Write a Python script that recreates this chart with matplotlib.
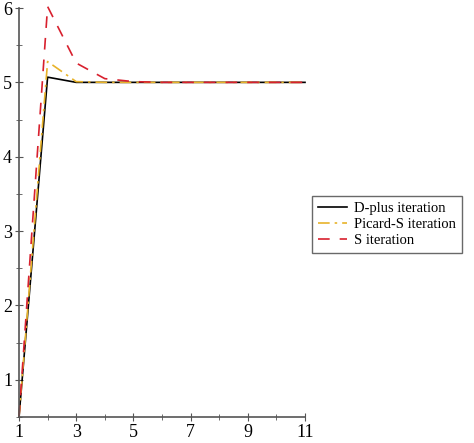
import matplotlib.pyplot as plt
from matplotlib.ticker import MultipleLocator

plt.rcParams['font.family'] = ['Liberation Serif', 'DejaVu Serif']

# iteration steps and series values
steps = list(range(1, 12))
d_plus = [0.5, 5.07, 5.0, 5.0, 5.0, 5.0, 5.0, 5.0, 5.0, 5.0, 5.0]
picard_s = [0.5, 5.28, 5.01, 5.0, 5.0, 5.0, 5.0, 5.0, 5.0, 5.0, 5.0]
s_iter = [0.5, 6.02, 5.26, 5.05, 5.01, 5.0, 5.0, 5.0, 5.0, 5.0, 5.0]
x_ticks = [1, 3, 5, 7, 9, 11]
y_ticks = [1, 2, 3, 4, 5, 6]

fig = plt.figure(figsize=(4.74, 4.43), dpi=100)
ax = fig.add_axes([19 / 474, 26 / 443, 286 / 474, 409 / 443])

ax.plot(steps, d_plus, color='black', lw=1.2, label='D-plus iteration', clip_on=False)
ax.plot(steps, picard_s, color='#E8B32A', lw=1.2, ls=(0, (7, 3, 1.5, 3)),
        label='Picard-S iteration', clip_on=False)
ax.plot(steps, s_iter, color='#D8202E', lw=1.2, ls=(0, (7, 6)),
        label='S iteration', clip_on=False)

ax.set_xlim(1, 11)
ax.set_ylim(0.5, 6)
ax.set_xticks(x_ticks)
ax.xaxis.set_minor_locator(MultipleLocator(1))
ax.set_yticks(y_ticks)
ax.yaxis.set_minor_locator(MultipleLocator(0.5))

for side in ['top', 'right']:
    ax.spines[side].set_visible(False)
for side in ['left', 'bottom']:
    ax.spines[side].set_color('#555555')
    ax.spines[side].set_linewidth(1.2)

ax.tick_params(which='both', direction='inout', color='#555555', labelsize=13, pad=2)
ax.tick_params(which='major', length=6)
ax.tick_params(which='minor', length=4)

leg = ax.legend(loc='upper left', bbox_to_anchor=(1.025, 0.54), fontsize=10.5,
                frameon=True, fancybox=False, handlelength=2.0, borderpad=0.4,
                labelspacing=0.2, handletextpad=0.5, borderaxespad=0)
leg.get_frame().set_edgecolor('#444444')
leg.get_frame().set_linewidth(1.0)

fig.savefig('out.png', dpi=100)
